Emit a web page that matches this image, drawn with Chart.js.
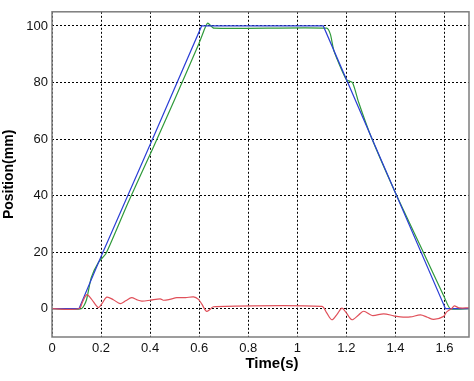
<!DOCTYPE html>
<html>
<head>
<meta charset="utf-8">
<script src="https://cdn.jsdelivr.net/npm/chart.js@4.4.1/dist/chart.umd.min.js"></script>
<style>
  html, body { margin: 0; padding: 0; background: #fff; }
  #wrap { width: 474px; height: 381px; position: relative; }
</style>
</head>
<body>
<div id="wrap"><canvas id="posChart"></canvas></div>
<script>
// ======= Data =======
const timeRef = [0, 0.11, 0.2, 0.41, 0.61, 1.106, 1.604, 1.7];
const posRef = [0, 0, 18.5, 60, 100, 100, 0, 0];

const timeAct = [0, 0.12, 0.14, 0.16, 0.19, 0.22, 0.31, 0.41, 0.5, 0.6, 0.625, 0.635, 0.66, 1.12, 1.135, 1.15, 1.2, 1.225, 1.25, 1.3, 1.4, 1.5, 1.6, 1.624, 1.7];
const posAct = [0, 0, 3, 11, 16.5, 19.5, 37.5, 56.5, 74, 94, 99.5, 101, 99.2, 99.2, 97, 91, 81, 80, 73, 61, 41, 22.5, 4, 0, 0];

const timeErr = [0, 0.11, 0.125, 0.142, 0.16, 0.189, 0.205, 0.223, 0.25, 0.278, 0.3, 0.325, 0.345, 0.366, 0.4, 0.441, 0.454, 0.48, 0.509, 0.545, 0.577, 0.597, 0.611, 0.629, 0.645, 0.658, 1.1, 1.12, 1.141, 1.162, 1.182, 1.2, 1.223, 1.25, 1.271, 1.305, 1.352, 1.393, 1.42, 1.461, 1.502, 1.53, 1.556, 1.597, 1.608, 1.631, 1.64, 1.66, 1.7];
const errVal = [0, 0, 2.5, 5, 3.5, 0.4, 2, 4.1, 3.2, 1.8, 2.8, 3.9, 3.2, 2.7, 3.0, 3.5, 3.0, 3.3, 3.9, 3.9, 4.2, 3.3, 1.6, -0.9, -0.2, 0.7, 0.8, -1.5, -3.9, -2, 0.2, -1.5, -3.9, -2.2, -0.9, -2.4, -1.8, -2.5, -2.9, -2.9, -2.2, -3, -3.8, -2.7, -1.2, 0.2, 1, 0.3, 0.3];

const xTicks = [0, 0.2, 0.4, 0.6, 0.8, 1, 1.2, 1.4, 1.6];
const yTicks = [0, 20, 40, 60, 80, 100];
const xTitle = 'Time(s)';
const yTitle = 'Position(mm)';

const toPoints = (xs, ys) => xs.map((x, i) => ({ x: x, y: ys[i] }));

// ======= Frame + x title =======
const framePlugin = {
    id: 'frame',
    afterDraw(chart) {
        const { ctx, chartArea: a } = chart;
        ctx.save();
        ctx.strokeStyle = '#7d7d7d';
        ctx.lineWidth = 1.5;
        ctx.strokeRect(a.left, a.top, a.right - a.left, a.bottom - a.top);
        ctx.fillStyle = '#000';
        ctx.font = 'bold 15px "Liberation Sans", Arial, sans-serif';
        ctx.textAlign = 'center';
        ctx.textBaseline = 'middle';
        ctx.fillText(xTitle, 272, 364);
        ctx.restore();
    }
};

const tickFont = { family: '"Liberation Sans", Arial, sans-serif', size: 13 };
const gridStyle = {
    color: '#000',
    lineWidth: 1,
    drawTicks: false
};

new Chart(document.getElementById('posChart'), {
    type: 'line',
    data: {
        datasets: [
            { label: 'error', data: toPoints(timeErr, errVal), borderColor: '#e0505a', borderWidth: 1.2, pointRadius: 0, tension: 0.3 },
            { label: 'reference', data: toPoints(timeRef, posRef), borderColor: '#2b3fd6', borderWidth: 1.2, pointRadius: 0, tension: 0 },
            { label: 'actual', data: toPoints(timeAct, posAct), borderColor: '#2f9a3a', borderWidth: 1.2, pointRadius: 0, tension: 0.2 }
        ]
    },
    options: {
        responsive: true,
        maintainAspectRatio: false,
        animation: false,
        layout: { padding: { top: 2, right: 5, left: 0, bottom: 0 } },
        plugins: { legend: { display: false }, tooltip: { enabled: false } },
        scales: {
            x: {
                type: 'linear',
                min: 0,
                max: 1.7,
                afterBuildTicks: s => { s.ticks = xTicks.map(v => ({ value: v })); },
                afterFit: s => { s.height = 44; },
                grid: gridStyle,
                border: { display: false, dash: [2, 2] },
                ticks: {
                    padding: 4,
                    color: '#111',
                    font: tickFont,
                    maxRotation: 0,
                    callback: v => String(Number(v.toFixed(1)))
                }
            },
            y: {
                min: -10,
                max: 105,
                afterBuildTicks: s => { s.ticks = yTicks.map(v => ({ value: v })); },
                afterFit: s => { s.width = 52; },
                grid: gridStyle,
                border: { display: false, dash: [2, 2] },
                ticks: { padding: 4, color: '#111', font: tickFont },
                title: {
                    display: true,
                    text: yTitle,
                    color: '#000',
                    padding: { top: 1, bottom: 0 },
                    font: { family: '"Liberation Sans", Arial, sans-serif', size: 14, weight: 'bold' }
                }
            }
        }
    },
    plugins: [framePlugin]
});
</script>
</body>
</html>
